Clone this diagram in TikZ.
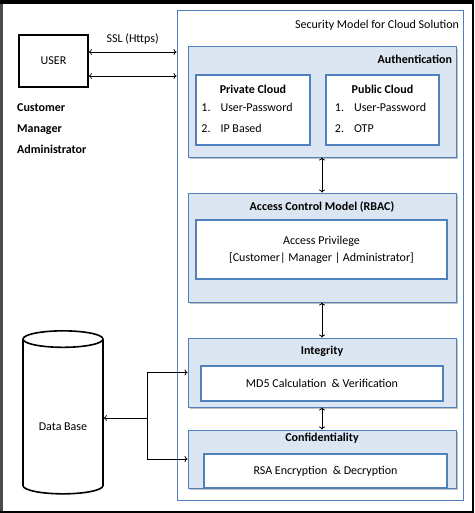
\documentclass[tikz,border=0pt]{standalone}
\usepackage{fontspec}
\setmainfont{Carlito}
\usetikzlibrary{positioning,arrows.meta,shapes.geometric,shadows}
\definecolor{msblue}{RGB}{79,129,189}
\definecolor{paleblue}{RGB}{220,230,242}

\begin{document}
\begin{tikzpicture}[
    x=1pt,y=-1pt,
    font=\fontsize{12}{15}\selectfont,
    panel/.style={draw=msblue,line width=1pt,fill=paleblue,minimum width=268pt,
      drop shadow={shadow xshift=2pt,shadow yshift=-2pt,fill=black!40,opacity=0.6}},
    inbox/.style={draw=msblue,line width=1.4pt,fill=white,align=center},
    ttl/.style={font=\fontsize{12}{15}\selectfont\bfseries},
    arr/.style={-{To[length=3pt,width=6pt]},line width=0.8pt},
    dbl/.style={{To[length=3pt,width=6pt]}-{To[length=3pt,width=6pt]},line width=0.8pt}
  ]
    % frame of the figure
    \fill[white] (0,0) rectangle (474,513);
    \fill[black!70] (0,0) rectangle (3,513);
    \fill[black] (0,0) rectangle (474,4);
    \fill[black] (472,0) rectangle (474,513);
    \fill[black] (0,511) rectangle (474,513);
    \useasboundingbox (0,0) rectangle (474,513);

    % security model
    \node[draw=msblue,line width=1pt,minimum width=286pt,minimum height=489pt] (cont) at (320,255.5) {};
    \node[anchor=north east] (conttl) at ([xshift=-1pt,yshift=-6.5pt]cont.north east) {Security Model for Cloud Solution};

    \node[panel,minimum height=110pt] (auth) at (322,102) {};
    \node[ttl,anchor=north east] (authttl) at ([xshift=-1pt,yshift=-5.5pt]auth.north east) {Authentication};
    \node[inbox,minimum width=114pt,minimum height=70pt] (priv) at (253,110) {%
      \begin{tabular}{@{}l@{\hspace{10pt}}l@{\hspace{12pt}}}
        \multicolumn{2}{@{}c@{}}{\textbf{Private Cloud}}\\[3pt]
        1. & User-Password\\[6pt]
        2. & IP Based
      \end{tabular}};
    \node[inbox,minimum width=113pt,minimum height=70pt] (pub) at (382.5,110) {%
      \begin{tabular}{@{}l@{\hspace{10pt}}l@{\hspace{4pt}}}
        \multicolumn{2}{@{}c@{}}{\textbf{Public Cloud}}\\[3pt]
        1. & User-Password\\[6pt]
        2. & OTP
      \end{tabular}};

    \node[panel,minimum height=109pt] (acm) at (322,247.5) {};
    \node[ttl,anchor=north] (acmttl) at ([yshift=-5.5pt]acm.north) {Access Control Model (RBAC)};
    \node[inbox,minimum width=251pt,minimum height=59pt,font=\fontsize{12}{17}\selectfont] (privl) at (321.5,249.5)
      {Access Privilege\\{}[Customer\textbar{} Manager \textbar{} Administrator]};

    \node[panel,minimum height=69pt] (integ) at (322,372.5) {};
    \node[ttl,anchor=north] (integttl) at ([yshift=-5.5pt]integ.north) {Integrity};
    \node[inbox,minimum width=242pt,minimum height=35pt] (md5) at (322,383.5) {MD5 Calculation \ \& Verification};

    \node[panel,minimum height=58pt] (conf) at (322,459) {};
    \node[ttl,anchor=north] (confttl) at ([yshift=0pt]conf.north) {Confidentiality};
    \node[inbox,minimum width=243pt,minimum height=34pt] (rsa) at (325.5,471) {RSA Encryption \ \& Decryption};

    \draw[dbl] (auth.south) -- (acm.north);
    \draw[dbl] (acm.south) -- (integ.north);
    \draw[dbl] (integ.south) -- (conf.north);

    % user side
    \node[draw,line width=1.6pt,minimum width=69pt,minimum height=52pt] (user) at (53.5,61) {USER};
    \node[anchor=north west,align=left,inner sep=0pt,font=\fontsize{12}{21}\selectfont\bfseries] (roles) at (17,103)
      {Customer\\Manager\\Administrator};
    \draw[dbl] ([yshift=9pt]user.east) -- ([yshift=9pt]user.east -| cont.west)
      node[midway,above=4pt] (ssl) {SSL (Https)};
    \draw[dbl] ([yshift=-15pt]user.east) -- ([yshift=-15pt]user.east -| cont.west);

    % data base
    \node[cylinder,shape border rotate=90,aspect=0.3,draw,line width=1.6pt,fill=white,
      minimum width=80pt,minimum height=163pt] (db) at (63,418.5) {\phantom{Data Base}};
    \node (dbtxt) at ([yshift=-8pt]db.center) {Data Base};
    \coordinate (jn) at (147,418);
    \draw[arr] (jn) -- (jn -| db.east);
    \draw[arr] (jn) |- (integ.west);
    \draw[arr] (jn) |- (conf.west);
  \end{tikzpicture}
\end{document}
